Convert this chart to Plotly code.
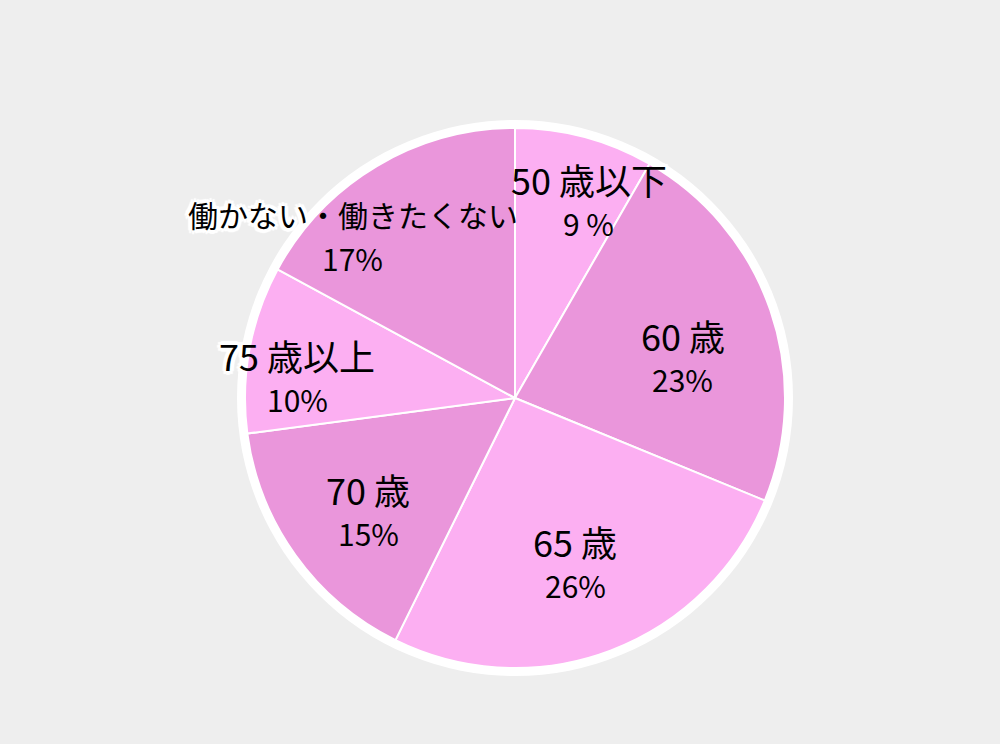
import math
import plotly.graph_objects as go

# ---- data ----
categories = ["50 歳以下", "60 歳", "65 歳", "70 歳", "75 歳以上", "働かない・働きたくない"]
values = [8.3, 22.9, 26.1, 15.6, 10.0, 17.1]        # slice shares as drawn
pct_labels = [9, 23, 26, 15, 10, 17]                # percentages printed on the chart

# ---- styling / layout ----
W, H = 1000, 744
CX, CY, R = 515, 398, 270      # pie centre and radius (px)
RING = 278                     # outer white ring radius (px)
BG = "#EEEEEE"
slice_colors = ["#FCAFF2", "#EA96DB", "#FCAFF2", "#EA96DB", "#FCAFF2", "#EA96DB"]
FONT = "Noto Sans CJK JP"
label_r = [0.78, 0.64, 0.65, 0.685, 0.81, 0.85]      # radial position of label block
label_dang = [5.56, 5.1, 0.7, -1.96, -4.94, -14.22]  # angular nudge (deg)
name_size = [36, 36, 36, 36, 36, 30]
pct_size = 30
GAP = 22
HALO_DY_FRAC = 0.2   # scatter text sits a bit higher than annotations
HALO = ("#fff 4px 0 1px, #fff -4px 0 1px, #fff 0 4px 1px, #fff 0 -4px 1px, "
        "#fff 3px 3px 1px, #fff -3px -3px 1px, #fff 3px -3px 1px, #fff -3px 3px 1px, "
        "#fff 2px 0 0, #fff -2px 0 0, #fff 0 2px 0, #fff 0 -2px 0")

pct_text = [(f"{v} %" if v < 10 else f"{v}%") for v in pct_labels]

total = sum(values)
cum = 0
nx, ny, px, py = [], [], [], []
for v, rf, da in zip(values, label_r, label_dang):
    mid = math.radians((cum + v / 2) / total * 360 + da)
    cum += v
    bx = CX + rf * R * math.sin(mid)
    by = CY - rf * R * math.cos(mid)
    nx.append(bx); ny.append(by - GAP)
    px.append(bx); py.append(by + GAP)

halo_sizes = name_size + [pct_size] * len(values)
halo_y = [y + HALO_DY_FRAC * s for y, s in zip(ny + py, halo_sizes)]

fig = go.Figure()

# white halo text (drawn beneath the pie, so it only shows outside it)
fig.add_trace(go.Scatter(
    x=nx + px, y=halo_y, mode="text",
    text=categories + pct_text,
    textposition="middle center",
    textfont=dict(family=FONT, size=halo_sizes, color="white", shadow=HALO),
    hoverinfo="skip", showlegend=False, cliponaxis=False,
))

fig.add_trace(go.Pie(
    values=values, labels=categories, sort=False, direction="clockwise",
    rotation=0, textinfo="none", hoverinfo="skip", showlegend=False,
    marker=dict(colors=slice_colors, line=dict(color="white", width=2)),
    domain=dict(x=[(CX - R) / W, (CX + R) / W],
                y=[(H - CY - R) / H, (H - CY + R) / H]),
))

annotations = []
for i in range(len(values)):
    annotations.append(dict(x=nx[i], y=ny[i], xref="x", yref="y", text=categories[i],
                            showarrow=False, xanchor="center", yanchor="middle",
                            font=dict(family=FONT, size=name_size[i], color="black")))
    annotations.append(dict(x=px[i], y=py[i], xref="x", yref="y", text=pct_text[i],
                            showarrow=False, xanchor="center", yanchor="middle",
                            font=dict(family=FONT, size=pct_size, color="black")))

fig.update_layout(
    width=W, height=H,
    margin=dict(l=0, r=0, t=0, b=0),
    paper_bgcolor=BG, plot_bgcolor="rgba(0,0,0,0)",
    xaxis=dict(range=[0, W], visible=False, domain=[0, 1], fixedrange=True),
    yaxis=dict(range=[H, 0], visible=False, domain=[0, 1], fixedrange=True),
    shapes=[dict(type="circle", xref="x", yref="y",
                 x0=CX - RING, x1=CX + RING, y0=CY - RING, y1=CY + RING,
                 fillcolor="white", line=dict(width=0), layer="below")],
    annotations=annotations,
)

fig.write_html("out.html", config={"displayModeBar": False},
               post_script="document.body.style.margin='0';")
